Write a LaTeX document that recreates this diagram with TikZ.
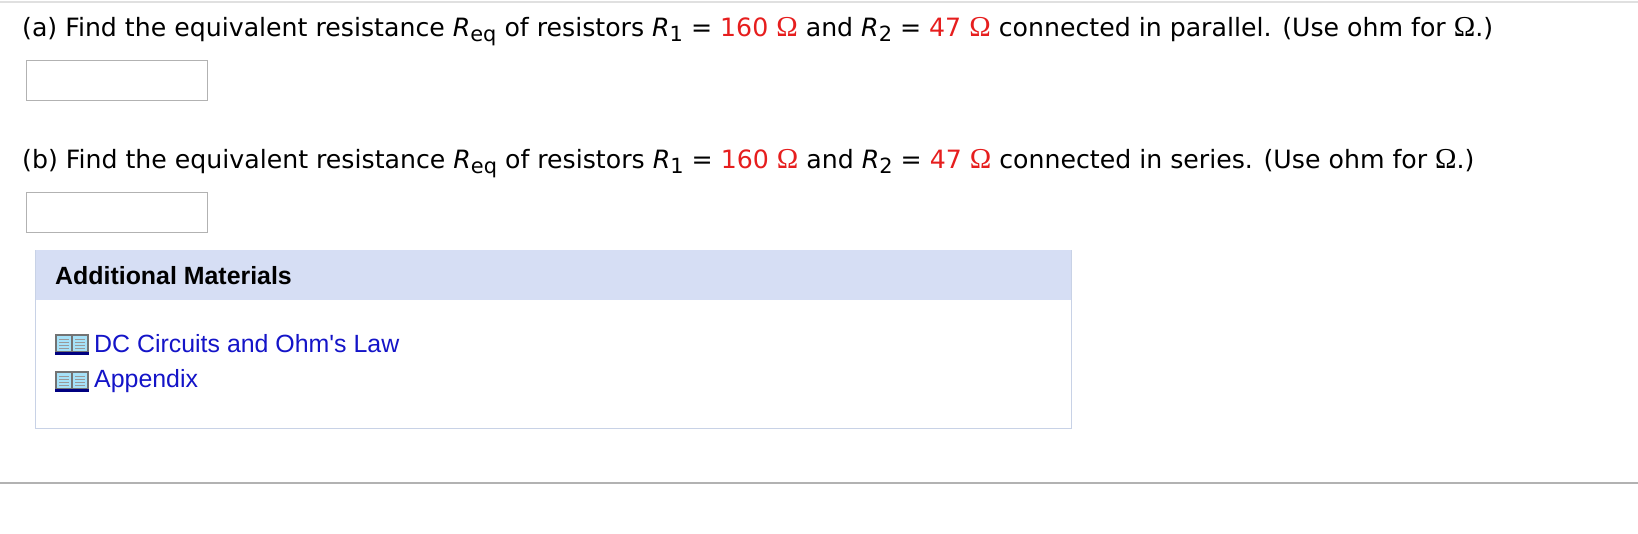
\documentclass[tikz,border=0pt]{standalone}
\usepackage{fontspec}
\setmainfont{DejaVu Sans}
\newfontfamily\arial{Liberation Sans}
\newfontfamily\om{Liberation Serif}
\definecolor{qred}{RGB}{230,30,30}
\definecolor{hdr}{RGB}{214,222,244}
\definecolor{pbrd}{RGB}{200,210,230}
\definecolor{lnk}{RGB}{20,20,200}
\newcommand{\OM}{{\om\fontsize{29}{32}\selectfont Ω}}
\newcommand{\Rs}[1]{\textit{R}\raisebox{-0.35ex}{\fontsize{21}{23}\selectfont #1}}
\begin{document}
\begin{tikzpicture}[x=1bp,y=-1bp,
 q/.style={anchor=west,inner sep=0,font=\fontsize{25.3}{30}\selectfont},
 ibox/.style={draw=black!30,fill=white},
 lk/.style={anchor=west,inner sep=0,text=lnk,font=\arial\fontsize{25}{30}\selectfont}]
\useasboundingbox (0,0) rectangle (1638,534);
\draw[black!12,line width=1.5] (0,2) -- (1638,2);
\draw[black!30,line width=1.2] (0,483) -- (1638,483);
\node[q] (qa) at (22,32) {(a) Find the equivalent resistance \Rs{eq} of resistors \Rs{1} {}= \textcolor{qred}{160 \OM} and \Rs{2} {}= \textcolor{qred}{47 \OM} connected in parallel. (Use ohm for \OM.)};
\draw[ibox] (26,60) rectangle (207,100);
\node[q] (qb) at (22,164) {(b) Find the equivalent resistance \Rs{eq} of resistors \Rs{1} {}= \textcolor{qred}{160 \OM} and \Rs{2} {}= \textcolor{qred}{47 \OM} connected in series. (Use ohm for \OM.)};
\draw[ibox] (26,192) rectangle (207,232);
\draw[pbrd,fill=white] (35,250) rectangle (1071,428);
\fill[hdr] (35.5,250.5) rectangle (1070.5,300);
\node[anchor=west,inner sep=0,font=\arial\bfseries\fontsize{25}{30}\selectfont] (h) at (55,276) {Additional Materials};
\foreach \y/\n in {344/i1,381/i2}{
 \fill[black!55] (55,\y-10) rectangle (89,\y+11);
 \fill[cyan!35!white] (57,\y-8) rectangle (71,\y+7);
 \fill[cyan!35!white] (73,\y-8) rectangle (87,\y+7);
 \foreach \k in {-5,-2,1,4}{\draw[black!40] (59,\y+\k) -- (69,\y+\k); \draw[black!40] (75,\y+\k) -- (85,\y+\k);}
 \fill[blue!50!black] (55,\y+8) rectangle (89,\y+11);
}
\node[lk] (l1) at (94,344) {DC Circuits and Ohm's Law};
\node[lk] (l2) at (94,381) {Appendix};
\end{tikzpicture}
\end{document}
